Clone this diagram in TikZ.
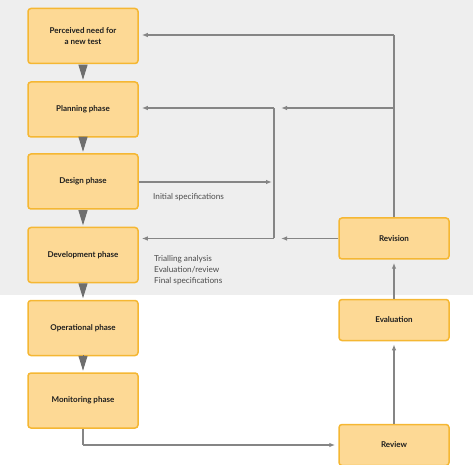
\documentclass[tikz,border=0pt]{standalone}
\usepackage{fontspec}
\setmainfont{Lato}
\usetikzlibrary{arrows.meta}
\definecolor{bgray}{HTML}{EEEEEE}
\definecolor{boxfill}{HTML}{FDD995}
\definecolor{boxedge}{HTML}{F5B733}
\definecolor{linegray}{HTML}{858585}
\definecolor{downgray}{HTML}{6E6E6E}
\definecolor{txt}{HTML}{1E1E1E}
\tikzset{
  phase/.style={draw=boxedge, fill=boxfill, line width=1.5pt, rounded corners=3pt,
    minimum width=110pt, minimum height=55pt, inner sep=0pt, align=center,
    font=\fontsize{8}{11}\selectfont\bfseries, text=txt},
  rbox/.style={phase, minimum height=41pt},
  conn/.style={draw=linegray, line width=1.1pt, -{Latex[length=6pt,width=4.5pt]}, shorten >=3pt},
  plain/.style={draw=linegray, line width=1.1pt},
  down/.style={draw=downgray, line width=1pt, -{Triangle[length=15pt,width=9pt]}, shorten >=1.5pt, shorten <=1pt},
  lbl/.style={font=\fontsize{8.2}{11}\selectfont, text=txt!80, align=left, anchor=west, inner sep=0pt}
}
\begin{document}
\begin{tikzpicture}[x=1pt,y=-1pt]
\useasboundingbox (0,0) rectangle (474,465);
\fill[bgray] (0,0) rectangle (473,295);
\node[phase] (p1) at (83,36) {Perceived need for\\a new test};
\node[phase] (p2) at (83,109.5) {Planning phase};
\node[phase] (p3) at (83,181.5) {Design phase};
\node[phase] (p4) at (83,255) {Development phase};
\node[phase] (p5) at (83,328) {Operational phase};
\node[phase] (p6) at (83,400.5) {Monitoring phase};
\node[rbox] (rev) at (394,238.5) {Revision};
\node[rbox] (eval) at (394,320) {Evaluation};
\node[rbox] (revw) at (394,445) {Review};
\draw[down] (p1) -- (p2);
\draw[down] (p2) -- (p3);
\draw[down] (p3) -- (p4);
\draw[down] (p4) -- (p5);
\draw[down] (p5) -- (p6);
\coordinate (top) at (394,35);
\coordinate (b1) at (394,108);
\coordinate (t1) at (278,108);
\coordinate (L1) at (274,108);
\coordinate (L2) at (274,238.5);
\coordinate (d1) at (275,182);
\coordinate (t2) at (278,238.5);
\coordinate (bot) at (83,445);
\draw[plain] (rev.north) -- (top);
\draw[conn] (top) -- (p1.east |- top);
\draw[conn] (b1) -- (t1);
\draw[plain] (L1) -- (L2);
\draw[conn] (L1) -- (p2.east |- L1);
\draw[conn] (L2) -- (p4.east |- L2);
\draw[conn] (p3.east |- d1) -- (d1);
\draw[conn] (rev.west) -- (t2);
\draw[conn] (eval.north) -- (rev.south);
\draw[conn] (revw.north) -- (eval.south);
\draw[plain] (p6.south) -- (bot);
\draw[conn] (bot) -- (revw.west |- bot);
\node[lbl] (l1) at (153,197) {Initial specifications};
\node[lbl] (l2) at (154,270) {Trialling analysis\\Evaluation/review\\Final specifications};
\end{tikzpicture}
\end{document}
